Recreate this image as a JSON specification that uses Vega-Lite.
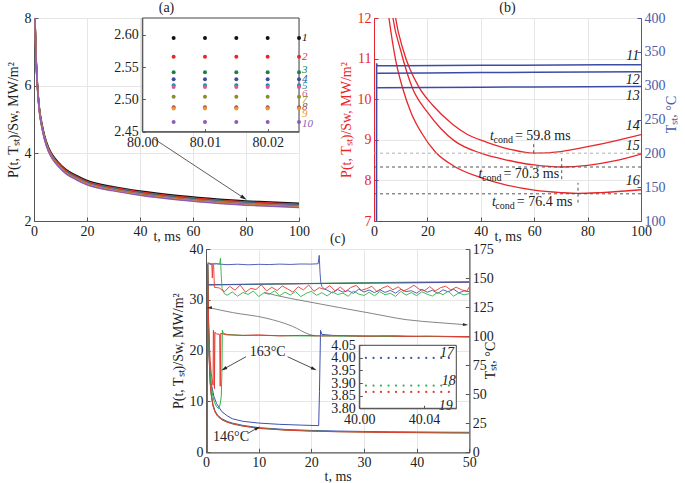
{
  "$schema": "https://vega.github.io/schema/vega-lite/v6.json",
  "background": "white",
  "padding": {"left": 5, "top": 0, "right": 5, "bottom": 0},
  "config": {
    "font": "Liberation Serif",
    "view": {"stroke": "#555"},
    "title": {"fontSize": 14, "fontWeight": "normal", "color": "#222", "offset": -4, "font": "Liberation Serif", "anchor": "middle"},
    "axis": {"labelFont": "Liberation Serif", "titleFont": "Liberation Serif", "labelFontSize": 14, "titleFontSize": 14, "titleFontWeight": "normal", "labelColor": "#222", "titleColor": "#222", "domainColor": "#555", "tickColor": "#555", "tickSize": -4, "labelPadding": 7, "gridColor": "#e6e6e6", "labelFlush": false, "labelOverlap": false},
    "text": {"font": "Liberation Serif"}
  },
  "resolve": {"scale": {"color": "independent"}},
  "spacing": -13,
  "vconcat": [
    {
      "resolve": {"scale": {"color": "independent"}},
      "hconcat": [
        {
          "width": 265, "height": 203,
          "title": "(a)",
          "resolve": {"scale": {"x": "independent", "y": "independent"}},
          "layer": [
            {
              "layer": [
                {
                  "data": {"values": [
                    {"t":0.3,"s":"1","p":8.3},{"t":0.4,"s":"1","p":7.975},{"t":0.7,"s":"1","p":7.075},{"t":1,"s":"1","p":6.475},{"t":1.5,"s":"1","p":5.825},{"t":2,"s":"1","p":5.375},{"t":3,"s":"1","p":4.875},{"t":4,"s":"1","p":4.525},{"t":5.5,"s":"1","p":4.175},{"t":7,"s":"1","p":3.955},{"t":9,"s":"1","p":3.755},{"t":12,"s":"1","p":3.525},{"t":16,"s":"1","p":3.345},{"t":20,"s":"1","p":3.195},{"t":30,"s":"1","p":3.015},{"t":40,"s":"1","p":2.885},{"t":55,"s":"1","p":2.745},{"t":70,"s":"1","p":2.645},{"t":85,"s":"1","p":2.575},{"t":100,"s":"1","p":2.525},
                    {"t":0.3,"s":"2","p":8.3},{"t":0.4,"s":"2","p":7.947},{"t":0.7,"s":"2","p":7.047},{"t":1,"s":"2","p":6.447},{"t":1.5,"s":"2","p":5.797},{"t":2,"s":"2","p":5.347},{"t":3,"s":"2","p":4.847},{"t":4,"s":"2","p":4.497},{"t":5.5,"s":"2","p":4.147},{"t":7,"s":"2","p":3.927},{"t":9,"s":"2","p":3.727},{"t":12,"s":"2","p":3.497},{"t":16,"s":"2","p":3.317},{"t":20,"s":"2","p":3.167},{"t":30,"s":"2","p":2.987},{"t":40,"s":"2","p":2.857},{"t":55,"s":"2","p":2.717},{"t":70,"s":"2","p":2.617},{"t":85,"s":"2","p":2.547},{"t":100,"s":"2","p":2.497},
                    {"t":0.3,"s":"3","p":8.3},{"t":0.4,"s":"3","p":7.92},{"t":0.7,"s":"3","p":7.02},{"t":1,"s":"3","p":6.42},{"t":1.5,"s":"3","p":5.77},{"t":2,"s":"3","p":5.32},{"t":3,"s":"3","p":4.82},{"t":4,"s":"3","p":4.47},{"t":5.5,"s":"3","p":4.12},{"t":7,"s":"3","p":3.9},{"t":9,"s":"3","p":3.7},{"t":12,"s":"3","p":3.47},{"t":16,"s":"3","p":3.29},{"t":20,"s":"3","p":3.14},{"t":30,"s":"3","p":2.96},{"t":40,"s":"3","p":2.83},{"t":55,"s":"3","p":2.69},{"t":70,"s":"3","p":2.59},{"t":85,"s":"3","p":2.52},{"t":100,"s":"3","p":2.47},
                    {"t":0.3,"s":"4","p":8.3},{"t":0.4,"s":"4","p":7.91},{"t":0.7,"s":"4","p":7.01},{"t":1,"s":"4","p":6.41},{"t":1.5,"s":"4","p":5.76},{"t":2,"s":"4","p":5.31},{"t":3,"s":"4","p":4.81},{"t":4,"s":"4","p":4.46},{"t":5.5,"s":"4","p":4.11},{"t":7,"s":"4","p":3.89},{"t":9,"s":"4","p":3.69},{"t":12,"s":"4","p":3.46},{"t":16,"s":"4","p":3.28},{"t":20,"s":"4","p":3.13},{"t":30,"s":"4","p":2.95},{"t":40,"s":"4","p":2.82},{"t":55,"s":"4","p":2.68},{"t":70,"s":"4","p":2.58},{"t":85,"s":"4","p":2.51},{"t":100,"s":"4","p":2.46},
                    {"t":0.3,"s":"5","p":8.3},{"t":0.4,"s":"5","p":7.903},{"t":0.7,"s":"5","p":7.003},{"t":1,"s":"5","p":6.403},{"t":1.5,"s":"5","p":5.753},{"t":2,"s":"5","p":5.303},{"t":3,"s":"5","p":4.803},{"t":4,"s":"5","p":4.453},{"t":5.5,"s":"5","p":4.103},{"t":7,"s":"5","p":3.883},{"t":9,"s":"5","p":3.683},{"t":12,"s":"5","p":3.453},{"t":16,"s":"5","p":3.273},{"t":20,"s":"5","p":3.123},{"t":30,"s":"5","p":2.943},{"t":40,"s":"5","p":2.813},{"t":55,"s":"5","p":2.673},{"t":70,"s":"5","p":2.573},{"t":85,"s":"5","p":2.503},{"t":100,"s":"5","p":2.453},
                    {"t":0.3,"s":"6","p":8.3},{"t":0.4,"s":"6","p":7.897},{"t":0.7,"s":"6","p":6.997},{"t":1,"s":"6","p":6.397},{"t":1.5,"s":"6","p":5.747},{"t":2,"s":"6","p":5.297},{"t":3,"s":"6","p":4.797},{"t":4,"s":"6","p":4.447},{"t":5.5,"s":"6","p":4.097},{"t":7,"s":"6","p":3.877},{"t":9,"s":"6","p":3.677},{"t":12,"s":"6","p":3.447},{"t":16,"s":"6","p":3.267},{"t":20,"s":"6","p":3.117},{"t":30,"s":"6","p":2.937},{"t":40,"s":"6","p":2.807},{"t":55,"s":"6","p":2.667},{"t":70,"s":"6","p":2.567},{"t":85,"s":"6","p":2.497},{"t":100,"s":"6","p":2.447},
                    {"t":0.3,"s":"7","p":8.3},{"t":0.4,"s":"7","p":7.885},{"t":0.7,"s":"7","p":6.985},{"t":1,"s":"7","p":6.385},{"t":1.5,"s":"7","p":5.735},{"t":2,"s":"7","p":5.285},{"t":3,"s":"7","p":4.785},{"t":4,"s":"7","p":4.435},{"t":5.5,"s":"7","p":4.085},{"t":7,"s":"7","p":3.865},{"t":9,"s":"7","p":3.665},{"t":12,"s":"7","p":3.435},{"t":16,"s":"7","p":3.255},{"t":20,"s":"7","p":3.105},{"t":30,"s":"7","p":2.925},{"t":40,"s":"7","p":2.795},{"t":55,"s":"7","p":2.655},{"t":70,"s":"7","p":2.555},{"t":85,"s":"7","p":2.485},{"t":100,"s":"7","p":2.435},
                    {"t":0.3,"s":"8","p":8.3},{"t":0.4,"s":"8","p":7.87},{"t":0.7,"s":"8","p":6.97},{"t":1,"s":"8","p":6.37},{"t":1.5,"s":"8","p":5.72},{"t":2,"s":"8","p":5.27},{"t":3,"s":"8","p":4.77},{"t":4,"s":"8","p":4.42},{"t":5.5,"s":"8","p":4.07},{"t":7,"s":"8","p":3.85},{"t":9,"s":"8","p":3.65},{"t":12,"s":"8","p":3.42},{"t":16,"s":"8","p":3.24},{"t":20,"s":"8","p":3.09},{"t":30,"s":"8","p":2.91},{"t":40,"s":"8","p":2.78},{"t":55,"s":"8","p":2.64},{"t":70,"s":"8","p":2.54},{"t":85,"s":"8","p":2.47},{"t":100,"s":"8","p":2.42},
                    {"t":0.3,"s":"9","p":8.3},{"t":0.4,"s":"9","p":7.865},{"t":0.7,"s":"9","p":6.965},{"t":1,"s":"9","p":6.365},{"t":1.5,"s":"9","p":5.715},{"t":2,"s":"9","p":5.265},{"t":3,"s":"9","p":4.765},{"t":4,"s":"9","p":4.415},{"t":5.5,"s":"9","p":4.065},{"t":7,"s":"9","p":3.845},{"t":9,"s":"9","p":3.645},{"t":12,"s":"9","p":3.415},{"t":16,"s":"9","p":3.235},{"t":20,"s":"9","p":3.085},{"t":30,"s":"9","p":2.905},{"t":40,"s":"9","p":2.775},{"t":55,"s":"9","p":2.635},{"t":70,"s":"9","p":2.535},{"t":85,"s":"9","p":2.465},{"t":100,"s":"9","p":2.415},
                    {"t":0.3,"s":"10","p":8.3},{"t":0.4,"s":"10","p":7.85},{"t":0.7,"s":"10","p":6.95},{"t":1,"s":"10","p":6.35},{"t":1.5,"s":"10","p":5.7},{"t":2,"s":"10","p":5.25},{"t":3,"s":"10","p":4.75},{"t":4,"s":"10","p":4.4},{"t":5.5,"s":"10","p":4.05},{"t":7,"s":"10","p":3.83},{"t":9,"s":"10","p":3.63},{"t":12,"s":"10","p":3.4},{"t":16,"s":"10","p":3.22},{"t":20,"s":"10","p":3.07},{"t":30,"s":"10","p":2.89},{"t":40,"s":"10","p":2.76},{"t":55,"s":"10","p":2.62},{"t":70,"s":"10","p":2.52},{"t":85,"s":"10","p":2.45},{"t":100,"s":"10","p":2.4}
                  ]},
                  "mark": {"type": "line", "clip": true, "strokeWidth": 1.5, "interpolate": "monotone"},
                  "encoding": {
                    "x": {"field": "t", "type": "quantitative", "scale": {"domain": [0, 100], "nice": false},
                      "axis": {"values": [0,10,20,30,40,50,60,70,80,90,100], "labelExpr": "datum.value % 20 == 0 ? datum.label : ''", "tickOpacity": {"condition": {"test": "datum.value % 20 == 0", "value": 1}, "value": 0}, "title": "t, ms", "titleY": 8, "titleBaseline": "top"}},
                    "y": {"field": "p", "type": "quantitative", "scale": {"domain": [2, 8], "nice": false},
                      "axis": {"values": [2,2.5,3,3.5,4,4.5,5,5.5,6,6.5,7,7.5,8], "format": "~g", "labelExpr": "datum.value % 1 == 0 ? datum.label : ''", "tickOpacity": {"condition": {"test": "datum.value % 1 == 0", "value": 1}, "value": 0}, "title": "P(t, Tₛₜ)/Sw, MW/m²"}},
                    "color": {"field": "s", "type": "nominal", "legend": null,
                      "scale": {"domain": ["1","2","3","4","5","6","7","8","9","10"], "range": ["#111111","#e8262b","#1b7f46","#3b4ba8","#1a9196","#d25aa0","#8c8c28","#9a4b3a","#f29330","#8c5cb8"]}}
                  }
                },
                {
                  "data": {"values": [{"t": 45.3, "p": 4.43, "t2": 79.2, "p2": 2.68}]},
                  "mark": {"type": "rule", "color": "#333", "strokeWidth": 0.8},
                  "encoding": {"x": {"field": "t", "type": "quantitative"}, "y": {"field": "p", "type": "quantitative"}, "x2": {"field": "t2"}, "y2": {"field": "p2"}}
                },
                {
                  "data": {"values": [{"t": 79.2, "p": 2.68}]},
                  "mark": {"type": "point", "shape": "M0,-1L0.55,1L-0.55,1Z", "filled": true, "color": "#222", "opacity": 1, "size": 45, "angle": 123},
                  "encoding": {"x": {"field": "t", "type": "quantitative"}, "y": {"field": "p", "type": "quantitative"}}
                }
              ]
            },
            {
              "layer": [
                {
                  "data": {"values": [{"x": 80, "x2": 80.025, "y": 2.45, "y2": 2.626}]},
                  "mark": {"type": "rect", "fill": "white", "stroke": "#444", "strokeWidth": 1},
                  "encoding": {
                    "x": {"field": "x", "type": "quantitative", "scale": {"domain": [80, 80.025], "range": [108.3, 265], "nice": false, "zero": false},
                      "axis": {"orient": "bottom", "offset": -89.3, "values": [80, 80.01, 80.02], "format": ".2f", "title": null, "grid": false, "zindex": 1, "tickSize": -3}},
                    "x2": {"field": "x2"},
                    "y": {"field": "y", "type": "quantitative", "scale": {"domain": [2.45, 2.626], "range": [113.7, 0], "nice": false, "zero": false},
                      "axis": {"orient": "left", "offset": -108.3, "values": [2.45, 2.5, 2.55, 2.6], "format": ".2f", "title": null, "grid": false, "zindex": 1, "tickSize": -3}},
                    "y2": {"field": "y2"}
                  }
                },
                {
                  "data": {"values": [
                    {"x":80.005,"s":"1","p":2.595},{"x":80.01,"s":"1","p":2.595},{"x":80.015,"s":"1","p":2.595},{"x":80.02,"s":"1","p":2.595},{"x":80.025,"s":"1","p":2.595},
                    {"x":80.005,"s":"2","p":2.566},{"x":80.01,"s":"2","p":2.566},{"x":80.015,"s":"2","p":2.566},{"x":80.02,"s":"2","p":2.566},{"x":80.025,"s":"2","p":2.566},
                    {"x":80.005,"s":"3","p":2.542},{"x":80.01,"s":"3","p":2.542},{"x":80.015,"s":"3","p":2.542},{"x":80.02,"s":"3","p":2.542},{"x":80.025,"s":"3","p":2.542},
                    {"x":80.005,"s":"4","p":2.531},{"x":80.01,"s":"4","p":2.531},{"x":80.015,"s":"4","p":2.531},{"x":80.02,"s":"4","p":2.531},{"x":80.025,"s":"4","p":2.531},
                    {"x":80.005,"s":"5","p":2.522},{"x":80.01,"s":"5","p":2.522},{"x":80.015,"s":"5","p":2.522},{"x":80.02,"s":"5","p":2.522},{"x":80.025,"s":"5","p":2.522},
                    {"x":80.005,"s":"6","p":2.519},{"x":80.01,"s":"6","p":2.519},{"x":80.015,"s":"6","p":2.519},{"x":80.02,"s":"6","p":2.519},{"x":80.025,"s":"6","p":2.519},
                    {"x":80.005,"s":"7","p":2.504},{"x":80.01,"s":"7","p":2.504},{"x":80.015,"s":"7","p":2.504},{"x":80.02,"s":"7","p":2.504},{"x":80.025,"s":"7","p":2.504},
                    {"x":80.005,"s":"8","p":2.488},{"x":80.01,"s":"8","p":2.488},{"x":80.015,"s":"8","p":2.488},{"x":80.02,"s":"8","p":2.488},{"x":80.025,"s":"8","p":2.488},
                    {"x":80.005,"s":"9","p":2.486},{"x":80.01,"s":"9","p":2.486},{"x":80.015,"s":"9","p":2.486},{"x":80.02,"s":"9","p":2.486},{"x":80.025,"s":"9","p":2.486},
                    {"x":80.005,"s":"10","p":2.465},{"x":80.01,"s":"10","p":2.465},{"x":80.015,"s":"10","p":2.465},{"x":80.02,"s":"10","p":2.465},{"x":80.025,"s":"10","p":2.465}
                  ]},
                  "mark": {"type": "circle", "size": 16, "opacity": 1},
                  "encoding": {
                    "x": {"field": "x", "type": "quantitative"},
                    "y": {"field": "p", "type": "quantitative"},
                    "color": {"field": "s", "type": "nominal", "legend": null}
                  }
                },
                {
                  "data": {"values": [
                    {"x":80.025,"s":"1","p":2.595},{"x":80.025,"s":"2","p":2.565},{"x":80.025,"s":"3","p":2.545},{"x":80.025,"s":"4","p":2.532},{"x":80.025,"s":"5","p":2.52},
                    {"x":80.025,"s":"6","p":2.508},{"x":80.025,"s":"7","p":2.499},{"x":80.025,"s":"8","p":2.488},{"x":80.025,"s":"9","p":2.477},{"x":80.025,"s":"10","p":2.462}
                  ]},
                  "mark": {"type": "text", "align": "left", "baseline": "middle", "dx": 3, "fontSize": 11, "fontStyle": "italic"},
                  "encoding": {
                    "x": {"field": "x", "type": "quantitative"},
                    "y": {"field": "p", "type": "quantitative"},
                    "text": {"field": "s"},
                    "color": {"field": "s", "type": "nominal", "legend": null}
                  }
                }
              ]
            }
          ]
        },
        {
          "width": 267, "height": 203,
          "title": "(b)",
          "resolve": {"scale": {"y": "independent"}},
          "layer": [
            {
              "layer": [
                {
                  "data": {"values": [
                    {"t":4.8,"s":"16","p":12.4},{"t":5.6,"s":"16","p":12},{"t":8,"s":"16","p":11.0},{"t":10.6,"s":"16","p":10.3},{"t":14,"s":"16","p":9.65},{"t":18,"s":"16","p":9.15},{"t":23,"s":"16","p":8.7},{"t":30,"s":"16","p":8.35},{"t":40,"s":"16","p":8.07},{"t":50,"s":"16","p":7.88},{"t":60,"s":"16","p":7.76},{"t":70,"s":"16","p":7.7},{"t":76.4,"s":"16","p":7.68},{"t":85,"s":"16","p":7.7},{"t":100,"s":"16","p":7.77},
                    {"t":6.3,"s":"15","p":12.4},{"t":7.1,"s":"15","p":12},{"t":10,"s":"15","p":11.2},{"t":14.3,"s":"15","p":10.29},{"t":20,"s":"15","p":9.68},{"t":25,"s":"15","p":9.28},{"t":30,"s":"15","p":8.98},{"t":40,"s":"15","p":8.67},{"t":50.6,"s":"15","p":8.49},{"t":60,"s":"15","p":8.38},{"t":70.3,"s":"15","p":8.33},{"t":80,"s":"15","p":8.37},{"t":90,"s":"15","p":8.48},{"t":100,"s":"15","p":8.65},
                    {"t":7.3,"s":"14","p":12.4},{"t":8.1,"s":"14","p":12},{"t":11,"s":"14","p":11.2},{"t":16.9,"s":"14","p":10.29},{"t":22,"s":"14","p":9.85},{"t":29.3,"s":"14","p":9.39},{"t":35,"s":"14","p":9.13},{"t":41.8,"s":"14","p":8.95},{"t":50.6,"s":"14","p":8.77},{"t":59.8,"s":"14","p":8.67},{"t":70,"s":"14","p":8.71},{"t":80,"s":"14","p":8.83},{"t":90,"s":"14","p":8.97},{"t":100,"s":"14","p":9.13}
                  ]},
                  "mark": {"type": "line", "clip": true, "color": "#e8262b", "strokeWidth": 1.3, "interpolate": "monotone"},
                  "encoding": {
                    "x": {"field": "t", "type": "quantitative", "scale": {"domain": [0, 100], "nice": false},
                      "axis": {"values": [0,10,20,30,40,50,60,70,80,90,100], "labelExpr": "datum.value % 20 == 0 ? datum.label : ''", "tickOpacity": {"condition": {"test": "datum.value % 20 == 0", "value": 1}, "value": 0}, "title": "t, ms", "titleY": 8, "titleBaseline": "top"}},
                    "y": {"field": "p", "type": "quantitative", "scale": {"domain": [7, 12], "nice": false, "zero": false},
                      "axis": {"values": [7,7.5,8,8.5,9,9.5,10,10.5,11,11.5,12], "format": "~g", "labelExpr": "datum.value % 1 == 0 ? datum.label : ''", "tickOpacity": {"condition": {"test": "datum.value % 1 == 0", "value": 1}, "value": 0}, "title": "P(t, Tₛₜ)/Sw, MW/m²", "labelColor": "#e8262b", "titleColor": "#e8262b", "domainColor": "#e8262b", "tickColor": "#e8262b"}},
                    "detail": {"field": "s"}
                  }
                },
                {
                  "data": {"values": [{"p": 8.67}]},
                  "mark": {"type": "rule", "color": "#b0b0b0", "strokeDash": [3, 3], "strokeWidth": 1},
                  "encoding": {"y": {"field": "p", "type": "quantitative"}}
                },
                {
                  "data": {"values": [{"p": 8.33}, {"p": 7.67}]},
                  "mark": {"type": "rule", "color": "#555", "strokeDash": [3, 3], "strokeWidth": 1},
                  "encoding": {"y": {"field": "p", "type": "quantitative"}}
                },
                {
                  "data": {"values": [{"t": 59.8, "a": 8.67, "b": 8.95}, {"t": 70.3, "a": 8.03, "b": 8.57}, {"t": 76.4, "a": 7.45, "b": 7.94}]},
                  "mark": {"type": "rule", "color": "#555", "strokeDash": [3, 3], "strokeWidth": 1},
                  "encoding": {"x": {"field": "t", "type": "quantitative"}, "y": {"field": "a", "type": "quantitative"}, "y2": {"field": "b"}}
                },
                {
                  "data": {"values": [{"t": 52.4, "p": 9.1, "v": "= 59.8 ms"}, {"t": 48.1, "p": 8.16, "v": "= 70.3 ms"}, {"t": 53.1, "p": 7.48, "v": "= 76.4 ms"}]},
                  "layer": [
                    {"mark": {"type": "text", "align": "left", "baseline": "middle", "fontSize": 14, "color": "#222", "dx": 1}, "encoding": {"x": {"field": "t", "type": "quantitative"}, "y": {"field": "p", "type": "quantitative"}, "text": {"field": "v"}}},
                    {"mark": {"type": "text", "align": "right", "baseline": "middle", "fontSize": 10, "color": "#222", "dx": -1, "dy": 4, "text": "cond"}, "encoding": {"x": {"field": "t", "type": "quantitative"}, "y": {"field": "p", "type": "quantitative"}}},
                    {"mark": {"type": "text", "align": "right", "baseline": "middle", "fontSize": 14, "fontStyle": "italic", "color": "#222", "dx": -20, "text": "t"}, "encoding": {"x": {"field": "t", "type": "quantitative"}, "y": {"field": "p", "type": "quantitative"}}}
                  ]
                },
                {
                  "data": {"values": [{"t": 96.9, "p": 11.07, "lab": "11"}, {"t": 96.9, "p": 10.48, "lab": "12"}, {"t": 96.9, "p": 10.08, "lab": "13"}, {"t": 96.9, "p": 9.33, "lab": "14"}, {"t": 96.9, "p": 8.85, "lab": "15"}, {"t": 96.9, "p": 7.99, "lab": "16"}]},
                  "mark": {"type": "text", "align": "center", "baseline": "middle", "fontSize": 14, "fontStyle": "italic", "color": "#222"},
                  "encoding": {"x": {"field": "t", "type": "quantitative"}, "y": {"field": "p", "type": "quantitative"}, "text": {"field": "lab"}}
                }
              ]
            },
            {
              "layer": [
                {
                  "data": {"values": [
                    {"t":0.95,"s":"11","T":100},{"t":1.0,"s":"11","T":333},{"t":1.2,"s":"11","T":329.3},{"t":10,"s":"11","T":329.6},{"t":25,"s":"11","T":329.8},{"t":40,"s":"11","T":330.1},{"t":55,"s":"11","T":330.3},{"t":70,"s":"11","T":330.6},{"t":85,"s":"11","T":330.8},{"t":100,"s":"11","T":331},
                    {"t":1.2,"s":"12","T":318.4},{"t":20,"s":"12","T":318.8},{"t":40,"s":"12","T":319.3},{"t":60,"s":"12","T":319.8},{"t":80,"s":"12","T":320.2},{"t":100,"s":"12","T":320.6},
                    {"t":1.2,"s":"13","T":296.9},{"t":20,"s":"13","T":297.3},{"t":40,"s":"13","T":297.7},{"t":60,"s":"13","T":298.1},{"t":80,"s":"13","T":298.5},{"t":100,"s":"13","T":298.9}
                  ]},
                  "mark": {"type": "line", "color": "#3c4ca6", "strokeWidth": 1.5},
                  "encoding": {
                    "x": {"field": "t", "type": "quantitative", "scale": {"domain": [0, 100], "nice": false}},
                    "y": {"field": "T", "type": "quantitative", "scale": {"domain": [100, 400], "nice": false, "zero": false},
                      "axis": {"orient": "right", "values": [100,150,200,250,300,350,400], "grid": false, "title": "Tₛₜ, °C", "titleAngle": 270, "titleBaseline": "top", "titleAlign": "center", "titleX": 23, "titleY": 96, "labelColor": "#4a5aa8", "titleColor": "#4a5aa8", "domainColor": "#4a5aa8", "tickColor": "#4a5aa8"}},
                    "detail": {"field": "s"}
                  }
                }
              ]
            }
          ]
        }
      ],
      "spacing": 75,
      "bounds": "flush"
    },
    {
      "resolve": {"scale": {"color": "independent"}},
      "hconcat": [
        {
          "width": 161.7, "height": 10,
          "view": {"stroke": null},
          "data": {"values": [{"z": 0}]},
          "mark": {"type": "point", "opacity": 0},
          "encoding": {}
        },
        {
          "width": 263.3, "height": 203.3,
          "title": "(c)",
          "resolve": {"scale": {"x": "independent", "y": "independent"}},
          "layer": [
            {
              "layer": [
                {
                  "data": {"values": [
                    {"t":0.25,"p":0,"run":"146","ch":"17"},{"t":0.3,"p":37,"run":"146","ch":"17"},{"t":0.45,"p":26,"run":"146","ch":"17"},{"t":0.6,"p":19,"run":"146","ch":"17"},{"t":0.8,"p":14,"run":"146","ch":"17"},{"t":1.0,"p":11.5,"run":"146","ch":"17"},{"t":1.3,"p":9.5,"run":"146","ch":"17"},{"t":1.7,"p":8.2,"run":"146","ch":"17"},{"t":2.2,"p":7.3,"run":"146","ch":"17"},{"t":3,"p":6.6,"run":"146","ch":"17"},{"t":4,"p":6.1,"run":"146","ch":"17"},{"t":5,"p":5.75,"run":"146","ch":"17"},{"t":7,"p":5.3,"run":"146","ch":"17"},{"t":10,"p":4.85,"run":"146","ch":"17"},{"t":15,"p":4.5,"run":"146","ch":"17"},{"t":20,"p":4.3,"run":"146","ch":"17"},{"t":25,"p":4.18,"run":"146","ch":"17"},{"t":30,"p":4.1,"run":"146","ch":"17"},{"t":35,"p":4.04,"run":"146","ch":"17"},{"t":40,"p":4.0,"run":"146","ch":"17"},{"t":45,"p":3.96,"run":"146","ch":"17"},{"t":50,"p":3.93,"run":"146","ch":"17"},
                    {"t":0.25,"p":0,"run":"146","ch":"18"},{"t":0.3,"p":37,"run":"146","ch":"18"},{"t":0.45,"p":25.5,"run":"146","ch":"18"},{"t":0.6,"p":18.6,"run":"146","ch":"18"},{"t":0.8,"p":13.7,"run":"146","ch":"18"},{"t":1.0,"p":11.3,"run":"146","ch":"18"},{"t":1.3,"p":9.3,"run":"146","ch":"18"},{"t":1.7,"p":8.0,"run":"146","ch":"18"},{"t":2.2,"p":7.15,"run":"146","ch":"18"},{"t":3,"p":6.45,"run":"146","ch":"18"},{"t":4,"p":5.97,"run":"146","ch":"18"},{"t":5,"p":5.63,"run":"146","ch":"18"},{"t":7,"p":5.18,"run":"146","ch":"18"},{"t":10,"p":4.74,"run":"146","ch":"18"},{"t":15,"p":4.39,"run":"146","ch":"18"},{"t":20,"p":4.19,"run":"146","ch":"18"},{"t":25,"p":4.07,"run":"146","ch":"18"},{"t":30,"p":3.99,"run":"146","ch":"18"},{"t":35,"p":3.93,"run":"146","ch":"18"},{"t":40,"p":3.89,"run":"146","ch":"18"},{"t":45,"p":3.85,"run":"146","ch":"18"},{"t":50,"p":3.82,"run":"146","ch":"18"},
                    {"t":0.25,"p":0,"run":"146","ch":"19"},{"t":0.3,"p":37,"run":"146","ch":"19"},{"t":0.45,"p":25.3,"run":"146","ch":"19"},{"t":0.6,"p":18.5,"run":"146","ch":"19"},{"t":0.8,"p":13.6,"run":"146","ch":"19"},{"t":1.0,"p":11.2,"run":"146","ch":"19"},{"t":1.3,"p":9.2,"run":"146","ch":"19"},{"t":1.7,"p":7.95,"run":"146","ch":"19"},{"t":2.2,"p":7.1,"run":"146","ch":"19"},{"t":3,"p":6.4,"run":"146","ch":"19"},{"t":4,"p":5.93,"run":"146","ch":"19"},{"t":5,"p":5.6,"run":"146","ch":"19"},{"t":7,"p":5.15,"run":"146","ch":"19"},{"t":10,"p":4.71,"run":"146","ch":"19"},{"t":15,"p":4.36,"run":"146","ch":"19"},{"t":20,"p":4.16,"run":"146","ch":"19"},{"t":25,"p":4.04,"run":"146","ch":"19"},{"t":30,"p":3.96,"run":"146","ch":"19"},{"t":35,"p":3.9,"run":"146","ch":"19"},{"t":40,"p":3.86,"run":"146","ch":"19"},{"t":45,"p":3.82,"run":"146","ch":"19"},{"t":50,"p":3.79,"run":"146","ch":"19"},
                    {"t":0.25,"p":0,"run":"163","ch":"17"},{"t":0.3,"p":37,"run":"163","ch":"17"},{"t":0.45,"p":27,"run":"163","ch":"17"},{"t":0.6,"p":20,"run":"163","ch":"17"},{"t":0.8,"p":15.5,"run":"163","ch":"17"},{"t":1.0,"p":13.5,"run":"163","ch":"17"},{"t":1.5,"p":11,"run":"163","ch":"17"},{"t":2,"p":9.6,"run":"163","ch":"17"},{"t":3,"p":8.0,"run":"163","ch":"17"},{"t":4,"p":7.2,"run":"163","ch":"17"},{"t":5,"p":6.6,"run":"163","ch":"17"},{"t":7,"p":6.1,"run":"163","ch":"17"},{"t":10,"p":5.75,"run":"163","ch":"17"},{"t":14,"p":5.5,"run":"163","ch":"17"},{"t":18,"p":5.35,"run":"163","ch":"17"},{"t":21.4,"p":5.25,"run":"163","ch":"17"},{"t":21.55,"p":12,"run":"163","ch":"17"},{"t":21.65,"p":18,"run":"163","ch":"17"},{"t":21.75,"p":24,"run":"163","ch":"17"},{"t":22,"p":23.2,"run":"163","ch":"17"},{"t":24,"p":23.0,"run":"163","ch":"17"},{"t":28,"p":22.9,"run":"163","ch":"17"},{"t":32,"p":22.85,"run":"163","ch":"17"},{"t":36,"p":22.9,"run":"163","ch":"17"},{"t":40,"p":22.8,"run":"163","ch":"17"},{"t":44,"p":22.8,"run":"163","ch":"17"},{"t":48,"p":22.75,"run":"163","ch":"17"},{"t":50,"p":22.7,"run":"163","ch":"17"},
                    {"t":0.25,"p":0,"run":"163","ch":"18"},{"t":0.3,"p":37,"run":"163","ch":"18"},{"t":0.45,"p":27,"run":"163","ch":"18"},{"t":0.6,"p":20,"run":"163","ch":"18"},{"t":0.8,"p":15.5,"run":"163","ch":"18"},{"t":1.0,"p":13,"run":"163","ch":"18"},{"t":1.3,"p":11,"run":"163","ch":"18"},{"t":1.6,"p":9.8,"run":"163","ch":"18"},{"t":2.0,"p":9.0,"run":"163","ch":"18"},{"t":2.4,"p":8.6,"run":"163","ch":"18"},{"t":2.7,"p":9.5,"run":"163","ch":"18"},{"t":2.9,"p":11,"run":"163","ch":"18"},{"t":3.0,"p":15,"run":"163","ch":"18"},{"t":3.05,"p":18,"run":"163","ch":"18"},{"t":3.1,"p":24,"run":"163","ch":"18"},{"t":3.3,"p":23.4,"run":"163","ch":"18"},{"t":4,"p":23.2,"run":"163","ch":"18"},{"t":7,"p":23.0,"run":"163","ch":"18"},{"t":10,"p":23.0,"run":"163","ch":"18"},{"t":14,"p":22.95,"run":"163","ch":"18"},{"t":18,"p":22.9,"run":"163","ch":"18"},{"t":22,"p":22.9,"run":"163","ch":"18"},{"t":26,"p":22.85,"run":"163","ch":"18"},{"t":30,"p":22.85,"run":"163","ch":"18"},{"t":34,"p":22.8,"run":"163","ch":"18"},{"t":38,"p":22.8,"run":"163","ch":"18"},{"t":42,"p":22.8,"run":"163","ch":"18"},{"t":46,"p":22.75,"run":"163","ch":"18"},{"t":50,"p":22.7,"run":"163","ch":"18"},
                    {"t":0.25,"p":0,"run":"163","ch":"19"},{"t":0.3,"p":37,"run":"163","ch":"19"},{"t":0.45,"p":28,"run":"163","ch":"19"},{"t":0.6,"p":22,"run":"163","ch":"19"},{"t":0.8,"p":18,"run":"163","ch":"19"},{"t":1.0,"p":15.5,"run":"163","ch":"19"},{"t":1.2,"p":14,"run":"163","ch":"19"},{"t":1.35,"p":13.2,"run":"163","ch":"19"},{"t":1.4,"p":24,"run":"163","ch":"19"},{"t":1.5,"p":23.5,"run":"163","ch":"19"},{"t":1.6,"p":12.5,"run":"163","ch":"19"},{"t":1.7,"p":23.6,"run":"163","ch":"19"},{"t":2,"p":23.3,"run":"163","ch":"19"},{"t":2.6,"p":23.2,"run":"163","ch":"19"},{"t":2.7,"p":13,"run":"163","ch":"19"},{"t":2.8,"p":23.4,"run":"163","ch":"19"},{"t":4,"p":23.1,"run":"163","ch":"19"},{"t":7,"p":23.0,"run":"163","ch":"19"},{"t":10,"p":23.1,"run":"163","ch":"19"},{"t":14,"p":22.9,"run":"163","ch":"19"},{"t":18,"p":23.0,"run":"163","ch":"19"},{"t":22,"p":22.9,"run":"163","ch":"19"},{"t":26,"p":22.95,"run":"163","ch":"19"},{"t":30,"p":22.85,"run":"163","ch":"19"},{"t":34,"p":22.9,"run":"163","ch":"19"},{"t":38,"p":22.8,"run":"163","ch":"19"},{"t":42,"p":22.85,"run":"163","ch":"19"},{"t":46,"p":22.8,"run":"163","ch":"19"},{"t":50,"p":22.75,"run":"163","ch":"19"}
                  ]},
                  "mark": {"type": "line", "strokeWidth": 1},
                  "encoding": {
                    "x": {"field": "t", "type": "quantitative", "scale": {"domain": [0, 50], "nice": false},
                      "axis": {"values": [0,5,10,15,20,25,30,35,40,45,50], "labelExpr": "datum.value % 10 == 0 ? datum.label : ''", "tickOpacity": {"condition": {"test": "datum.value % 10 == 0", "value": 1}, "value": 0}, "title": "t, ms", "titlePadding": 0}},
                    "y": {"field": "p", "type": "quantitative", "scale": {"domain": [0, 40], "nice": false},
                      "axis": {"values": [0,5,10,15,20,25,30,35,40], "title": "P(t, Tₛₜ)/Sw, MW/m²"}},
                    "color": {"field": "ch", "type": "nominal", "legend": null, "scale": {"domain": ["17", "18", "19"], "range": ["#3f50b0", "#2db34a", "#e53a2f"]}},
                    "detail": {"field": "run"}
                  }
                },
                {
                  "data": {"values": [
                    {"t":0.6,"p":28.45,"g":"1"},{"t":5,"p":27.5,"g":"1"},{"t":11.4,"p":26.4,"g":"1"},{"t":16.4,"p":24.8,"g":"1"},{"t":19.6,"p":23.2,"g":"1"},{"t":20.8,"p":22.9,"g":"1"},
                    {"t":11,"p":31.5,"g":"2"},{"t":13.2,"p":30.9,"g":"2"},{"t":19,"p":29.7,"g":"2"},{"t":25.2,"p":28.5,"g":"2"},{"t":31.6,"p":27.3,"g":"2"},{"t":38,"p":26.1,"g":"2"},{"t":44.3,"p":25.5,"g":"2"},{"t":49.3,"p":25.1,"g":"2"}
                  ]},
                  "mark": {"type": "line", "color": "#666", "strokeWidth": 0.8, "interpolate": "monotone"},
                  "encoding": {"x": {"field": "t", "type": "quantitative"}, "y": {"field": "p", "type": "quantitative"}, "detail": {"field": "g"}}
                },
                {
                  "data": {"values": [{"t": 0.6, "p": 28.45}]},
                  "mark": {"type": "point", "shape": "M0,-1L0.55,1L-0.55,1Z", "filled": true, "color": "#333", "opacity": 1, "size": 30, "angle": 265},
                  "encoding": {"x": {"field": "t", "type": "quantitative"}, "y": {"field": "p", "type": "quantitative"}}
                },
                {
                  "data": {"values": [{"t": 49.3, "p": 25.1}]},
                  "mark": {"type": "point", "shape": "M0,-1L0.55,1L-0.55,1Z", "filled": true, "color": "#333", "opacity": 1, "size": 30, "angle": 95},
                  "encoding": {"x": {"field": "t", "type": "quantitative"}, "y": {"field": "p", "type": "quantitative"}}
                },
                {
                  "data": {"values": [{"t": 7.6, "p": 18.8, "t2": 3.4, "p2": 16.4}, {"t": 15.5, "p": 18.8, "t2": 20.5, "p2": 16.4}, {"t": 7.9, "p": 3.7, "t2": 9.8, "p2": 4.8}]},
                  "mark": {"type": "rule", "color": "#222", "strokeWidth": 0.8},
                  "encoding": {"x": {"field": "t", "type": "quantitative"}, "y": {"field": "p", "type": "quantitative"}, "x2": {"field": "t2"}, "y2": {"field": "p2"}}
                },
                {
                  "data": {"values": [{"t": 3.4, "p": 16.4}]},
                  "mark": {"type": "point", "shape": "M0,-1L0.55,1L-0.55,1Z", "filled": true, "color": "#222", "opacity": 1, "size": 35, "angle": 241},
                  "encoding": {"x": {"field": "t", "type": "quantitative"}, "y": {"field": "p", "type": "quantitative"}}
                },
                {
                  "data": {"values": [{"t": 20.5, "p": 16.4}]},
                  "mark": {"type": "point", "shape": "M0,-1L0.55,1L-0.55,1Z", "filled": true, "color": "#222", "opacity": 1, "size": 35, "angle": 115},
                  "encoding": {"x": {"field": "t", "type": "quantitative"}, "y": {"field": "p", "type": "quantitative"}}
                },
                {
                  "data": {"values": [{"t": 9.8, "p": 4.8}]},
                  "mark": {"type": "point", "shape": "M0,-1L0.55,1L-0.55,1Z", "filled": true, "color": "#222", "opacity": 1, "size": 35, "angle": 60},
                  "encoding": {"x": {"field": "t", "type": "quantitative"}, "y": {"field": "p", "type": "quantitative"}}
                },
                {
                  "data": {"values": [{"t": 11.7, "p": 19.8, "lab": "163°C"}, {"t": 4.75, "p": 3.06, "lab": "146°C"}]},
                  "mark": {"type": "text", "align": "center", "baseline": "middle", "fontSize": 14, "color": "#222"},
                  "encoding": {"x": {"field": "t", "type": "quantitative"}, "y": {"field": "p", "type": "quantitative"}, "text": {"field": "lab"}}
                }
              ]
            },
            {
              "layer": [
                {
                  "data": {"values": [
                    {"t":0.3,"T":144.3,"run":"146","ch":"19"},{"t":5,"T":144.5,"run":"146","ch":"19"},{"t":10,"T":144.8,"run":"146","ch":"19"},{"t":20,"T":145.3,"run":"146","ch":"19"},{"t":30,"T":145.7,"run":"146","ch":"19"},{"t":40,"T":146.0,"run":"146","ch":"19"},{"t":50,"T":146.3,"run":"146","ch":"19"},
                    {"t":0.3,"T":144.0,"run":"146","ch":"18"},{"t":10,"T":144.6,"run":"146","ch":"18"},{"t":20,"T":145.4,"run":"146","ch":"18"},{"t":30,"T":146.0,"run":"146","ch":"18"},{"t":40,"T":146.6,"run":"146","ch":"18"},{"t":50,"T":147.0,"run":"146","ch":"18"},
                    {"t":0.3,"T":144.2,"run":"146","ch":"17"},{"t":10,"T":144.7,"run":"146","ch":"17"},{"t":25,"T":145.4,"run":"146","ch":"17"},{"t":50,"T":146.4,"run":"146","ch":"17"},
                    {"t":0.3,"T":162.5,"run":"163","ch":"17"},{"t":1,"T":161.8,"run":"163","ch":"17"},{"t":2,"T":162.2,"run":"163","ch":"17"},{"t":4,"T":161.5,"run":"163","ch":"17"},{"t":6,"T":161.9,"run":"163","ch":"17"},{"t":8,"T":161.4,"run":"163","ch":"17"},{"t":10,"T":161.8,"run":"163","ch":"17"},{"t":12,"T":161.6,"run":"163","ch":"17"},{"t":14,"T":162.0,"run":"163","ch":"17"},{"t":16,"T":161.7,"run":"163","ch":"17"},{"t":18,"T":162.1,"run":"163","ch":"17"},{"t":20,"T":162.0,"run":"163","ch":"17"},{"t":21.3,"T":162.3,"run":"163","ch":"17"},{"t":21.5,"T":169.5,"run":"163","ch":"17"},{"t":21.65,"T":155,"run":"163","ch":"17"},{"t":21.8,"T":146,"run":"163","ch":"17"},{"t":22,"T":142.8,"run":"163","ch":"17"},{"t":22.5,"T":140.5,"run":"163","ch":"17"},
                    {"t":23,"T":139.6,"run":"163","ch":"17"},{"t":24,"T":137.2,"run":"163","ch":"17"},{"t":25,"T":140.1,"run":"163","ch":"17"},{"t":26,"T":137.9,"run":"163","ch":"17"},{"t":27,"T":139.2,"run":"163","ch":"17"},{"t":28,"T":136.8,"run":"163","ch":"17"},{"t":29,"T":140.4,"run":"163","ch":"17"},{"t":30,"T":138.0,"run":"163","ch":"17"},{"t":31,"T":139.7,"run":"163","ch":"17"},{"t":32,"T":137.4,"run":"163","ch":"17"},{"t":33,"T":140.0,"run":"163","ch":"17"},{"t":34,"T":137.6,"run":"163","ch":"17"},{"t":35,"T":139.4,"run":"163","ch":"17"},{"t":36,"T":136.9,"run":"163","ch":"17"},{"t":37,"T":140.3,"run":"163","ch":"17"},{"t":38,"T":138.3,"run":"163","ch":"17"},{"t":39,"T":139.1,"run":"163","ch":"17"},{"t":40,"T":137.0,"run":"163","ch":"17"},{"t":41,"T":140.2,"run":"163","ch":"17"},{"t":42,"T":137.8,"run":"163","ch":"17"},{"t":43,"T":139.5,"run":"163","ch":"17"},{"t":44,"T":136.7,"run":"163","ch":"17"},{"t":45,"T":139.9,"run":"163","ch":"17"},{"t":46,"T":138.1,"run":"163","ch":"17"},{"t":47,"T":140.5,"run":"163","ch":"17"},{"t":48,"T":137.3,"run":"163","ch":"17"},{"t":49,"T":139.0,"run":"163","ch":"17"},{"t":50,"T":138.2,"run":"163","ch":"17"},
                    {"t":0.3,"T":162.8,"run":"163","ch":"18"},{"t":1,"T":162.3,"run":"163","ch":"18"},{"t":1.8,"T":162.6,"run":"163","ch":"18"},{"t":2.6,"T":162.1,"run":"163","ch":"18"},{"t":2.75,"T":167,"run":"163","ch":"18"},{"t":2.9,"T":152,"run":"163","ch":"18"},{"t":3.05,"T":141,"run":"163","ch":"18"},{"t":3.5,"T":136.5,"run":"163","ch":"18"},
                    {"t":4,"T":135.2,"run":"163","ch":"18"},{"t":5,"T":138.0,"run":"163","ch":"18"},{"t":6,"T":134.4,"run":"163","ch":"18"},{"t":7,"T":137.6,"run":"163","ch":"18"},{"t":8,"T":135.9,"run":"163","ch":"18"},{"t":9,"T":138.8,"run":"163","ch":"18"},{"t":10,"T":134.1,"run":"163","ch":"18"},{"t":11,"T":137.2,"run":"163","ch":"18"},{"t":12,"T":136.0,"run":"163","ch":"18"},{"t":13,"T":139.0,"run":"163","ch":"18"},{"t":14,"T":134.8,"run":"163","ch":"18"},{"t":15,"T":137.9,"run":"163","ch":"18"},{"t":16,"T":135.4,"run":"163","ch":"18"},{"t":17,"T":138.4,"run":"163","ch":"18"},{"t":18,"T":134.0,"run":"163","ch":"18"},{"t":19,"T":136.8,"run":"163","ch":"18"},{"t":20,"T":138.6,"run":"163","ch":"18"},{"t":21,"T":135.1,"run":"163","ch":"18"},{"t":22,"T":137.4,"run":"163","ch":"18"},{"t":23,"T":134.6,"run":"163","ch":"18"},{"t":24,"T":138.1,"run":"163","ch":"18"},{"t":25,"T":135.8,"run":"163","ch":"18"},{"t":26,"T":137.0,"run":"163","ch":"18"},{"t":27,"T":134.3,"run":"163","ch":"18"},{"t":28,"T":138.9,"run":"163","ch":"18"},{"t":29,"T":136.2,"run":"163","ch":"18"},{"t":30,"T":135.0,"run":"163","ch":"18"},{"t":31,"T":137.8,"run":"163","ch":"18"},{"t":32,"T":134.7,"run":"163","ch":"18"},{"t":33,"T":138.3,"run":"163","ch":"18"},{"t":34,"T":135.6,"run":"163","ch":"18"},{"t":35,"T":136.9,"run":"163","ch":"18"},{"t":36,"T":134.2,"run":"163","ch":"18"},{"t":37,"T":138.5,"run":"163","ch":"18"},{"t":38,"T":135.3,"run":"163","ch":"18"},{"t":39,"T":137.5,"run":"163","ch":"18"},{"t":40,"T":134.9,"run":"163","ch":"18"},{"t":41,"T":138.2,"run":"163","ch":"18"},{"t":42,"T":136.1,"run":"163","ch":"18"},{"t":43,"T":134.5,"run":"163","ch":"18"},{"t":44,"T":137.7,"run":"163","ch":"18"},{"t":45,"T":135.7,"run":"163","ch":"18"},{"t":46,"T":138.7,"run":"163","ch":"18"},{"t":47,"T":134.4,"run":"163","ch":"18"},{"t":48,"T":137.1,"run":"163","ch":"18"},{"t":49,"T":135.5,"run":"163","ch":"18"},{"t":50,"T":136.6,"run":"163","ch":"18"},
                    {"t":0.3,"T":163.2,"run":"163","ch":"19"},{"t":0.8,"T":162.5,"run":"163","ch":"19"},{"t":1.1,"T":162.0,"run":"163","ch":"19"},{"t":1.2,"T":150,"run":"163","ch":"19"},{"t":1.3,"T":161.5,"run":"163","ch":"19"},{"t":1.45,"T":160.5,"run":"163","ch":"19"},{"t":1.6,"T":142,"run":"163","ch":"19"},
                    {"t":2.5,"T":141.5,"run":"163","ch":"19"},{"t":3.5,"T":138.2,"run":"163","ch":"19"},{"t":4.5,"T":142.8,"run":"163","ch":"19"},{"t":5.5,"T":139.6,"run":"163","ch":"19"},{"t":6.5,"T":143.9,"run":"163","ch":"19"},{"t":7.5,"T":137.8,"run":"163","ch":"19"},{"t":8.5,"T":141.2,"run":"163","ch":"19"},{"t":9.5,"T":140.1,"run":"163","ch":"19"},{"t":10.5,"T":144.2,"run":"163","ch":"19"},{"t":11.5,"T":138.9,"run":"163","ch":"19"},{"t":12.5,"T":142.0,"run":"163","ch":"19"},{"t":13.5,"T":139.3,"run":"163","ch":"19"},{"t":14.5,"T":143.1,"run":"163","ch":"19"},{"t":15.5,"T":140.6,"run":"163","ch":"19"},{"t":16.5,"T":137.9,"run":"163","ch":"19"},{"t":17.5,"T":142.5,"run":"163","ch":"19"},{"t":18.5,"T":139.8,"run":"163","ch":"19"},{"t":19.5,"T":144.0,"run":"163","ch":"19"},{"t":20.5,"T":138.6,"run":"163","ch":"19"},{"t":21.5,"T":141.7,"run":"163","ch":"19"},{"t":22.5,"T":140.2,"run":"163","ch":"19"},{"t":23.5,"T":143.4,"run":"163","ch":"19"},{"t":24.5,"T":139.0,"run":"163","ch":"19"},{"t":25.5,"T":142.2,"run":"163","ch":"19"},{"t":26.5,"T":138.4,"run":"163","ch":"19"},{"t":27.5,"T":141.9,"run":"163","ch":"19"},{"t":28.5,"T":143.6,"run":"163","ch":"19"},{"t":29.5,"T":139.5,"run":"163","ch":"19"},{"t":30.5,"T":140.8,"run":"163","ch":"19"},{"t":31.5,"T":142.9,"run":"163","ch":"19"},{"t":32.5,"T":138.1,"run":"163","ch":"19"},{"t":33.5,"T":141.4,"run":"163","ch":"19"},{"t":34.5,"T":143.2,"run":"163","ch":"19"},{"t":35.5,"T":139.9,"run":"163","ch":"19"},{"t":36.5,"T":142.4,"run":"163","ch":"19"},{"t":37.5,"T":138.7,"run":"163","ch":"19"},{"t":38.5,"T":141.0,"run":"163","ch":"19"},{"t":39.5,"T":143.8,"run":"163","ch":"19"},{"t":40.5,"T":140.3,"run":"163","ch":"19"},{"t":41.5,"T":139.2,"run":"163","ch":"19"},{"t":42.5,"T":142.6,"run":"163","ch":"19"},{"t":43.5,"T":138.8,"run":"163","ch":"19"},{"t":44.5,"T":141.6,"run":"163","ch":"19"},{"t":45.5,"T":143.0,"run":"163","ch":"19"},{"t":46.5,"T":139.7,"run":"163","ch":"19"},{"t":47.5,"T":142.1,"run":"163","ch":"19"},{"t":48.5,"T":140.0,"run":"163","ch":"19"},{"t":49.5,"T":138.5,"run":"163","ch":"19"},{"t":50,"T":142.3,"run":"163","ch":"19"}
                  ]},
                  "mark": {"type": "line", "strokeWidth": 0.9},
                  "encoding": {
                    "x": {"field": "t", "type": "quantitative", "scale": {"domain": [0, 50], "nice": false}, "axis": null},
                    "y": {"field": "T", "type": "quantitative", "scale": {"domain": [0, 175], "nice": false},
                      "axis": {"orient": "right", "values": [0,25,50,75,100,125,150,175], "grid": false, "title": "Tₛₜ, °C", "titleAngle": 270, "titleBaseline": "top", "titleAlign": "center", "titleX": 14, "titleY": 111}},
                    "color": {"field": "ch", "type": "nominal", "legend": null},
                    "detail": {"field": "run"}
                  }
                }
              ]
            },
            {
              "layer": [
                {
                  "data": {"values": [{"x": 40, "x2": 40.06, "y": 3.8, "y2": 4.05}]},
                  "mark": {"type": "rect", "fill": "white", "stroke": "#444", "strokeWidth": 1},
                  "encoding": {
                    "x": {"field": "x", "type": "quantitative", "scale": {"domain": [40, 40.06], "range": [153.3, 250.3], "nice": false, "zero": false},
                      "axis": {"orient": "bottom", "offset": -44, "values": [40, 40.04], "format": ".2f", "title": null, "grid": false, "zindex": 1, "tickSize": -3}},
                    "x2": {"field": "x2"},
                    "y": {"field": "y", "type": "quantitative", "scale": {"domain": [3.8, 4.05], "range": [159.3, 96.3], "nice": false, "zero": false},
                      "axis": {"orient": "left", "offset": -153.3, "values": [3.8, 3.85, 3.9, 3.95, 4.0, 4.05], "format": ".2f", "title": null, "grid": false, "zindex": 1, "tickSize": -3}},
                    "y2": {"field": "y2"}
                  }
                },
                {
                  "data": {"values": [
                    {"x":40.0041,"p":4.0,"ch":"17"},{"x":40.0088,"p":4.0,"ch":"17"},{"x":40.0134,"p":4.0,"ch":"17"},{"x":40.0181,"p":4.0,"ch":"17"},{"x":40.0227,"p":4.0,"ch":"17"},{"x":40.0274,"p":4.0,"ch":"17"},{"x":40.0321,"p":4.0,"ch":"17"},{"x":40.0367,"p":4.0,"ch":"17"},{"x":40.0414,"p":4.0,"ch":"17"},{"x":40.046,"p":4.0,"ch":"17"},{"x":40.0507,"p":4.0,"ch":"17"},{"x":40.0554,"p":4.0,"ch":"17"},
                    {"x":40.0041,"p":3.89,"ch":"18"},{"x":40.0088,"p":3.89,"ch":"18"},{"x":40.0134,"p":3.89,"ch":"18"},{"x":40.0181,"p":3.89,"ch":"18"},{"x":40.0227,"p":3.89,"ch":"18"},{"x":40.0274,"p":3.89,"ch":"18"},{"x":40.0321,"p":3.89,"ch":"18"},{"x":40.0367,"p":3.89,"ch":"18"},{"x":40.0414,"p":3.89,"ch":"18"},{"x":40.046,"p":3.89,"ch":"18"},{"x":40.0507,"p":3.89,"ch":"18"},{"x":40.0554,"p":3.89,"ch":"18"},
                    {"x":40.0041,"p":3.865,"ch":"19"},{"x":40.0088,"p":3.865,"ch":"19"},{"x":40.0134,"p":3.865,"ch":"19"},{"x":40.0181,"p":3.865,"ch":"19"},{"x":40.0227,"p":3.865,"ch":"19"},{"x":40.0274,"p":3.865,"ch":"19"},{"x":40.0321,"p":3.865,"ch":"19"},{"x":40.0367,"p":3.865,"ch":"19"},{"x":40.0414,"p":3.865,"ch":"19"},{"x":40.046,"p":3.865,"ch":"19"},{"x":40.0507,"p":3.865,"ch":"19"},{"x":40.0554,"p":3.865,"ch":"19"}
                  ]},
                  "mark": {"type": "circle", "size": 5, "opacity": 1},
                  "encoding": {
                    "x": {"field": "x", "type": "quantitative"},
                    "y": {"field": "p", "type": "quantitative"},
                    "color": {"field": "ch", "type": "nominal", "legend": null}
                  }
                },
                {
                  "data": {"values": [{"x": 40.0543, "p": 4.018, "lab": "17"}, {"x": 40.0554, "p": 3.908, "lab": "18"}, {"x": 40.0534, "p": 3.81, "lab": "19"}]},
                  "mark": {"type": "text", "align": "center", "baseline": "middle", "fontSize": 14, "fontStyle": "italic", "color": "#222"},
                  "encoding": {"x": {"field": "x", "type": "quantitative"}, "y": {"field": "p", "type": "quantitative"}, "text": {"field": "lab"}}
                }
              ]
            }
          ]
        }
      ],
      "spacing": 10,
      "bounds": "flush"
    }
  ]
}
